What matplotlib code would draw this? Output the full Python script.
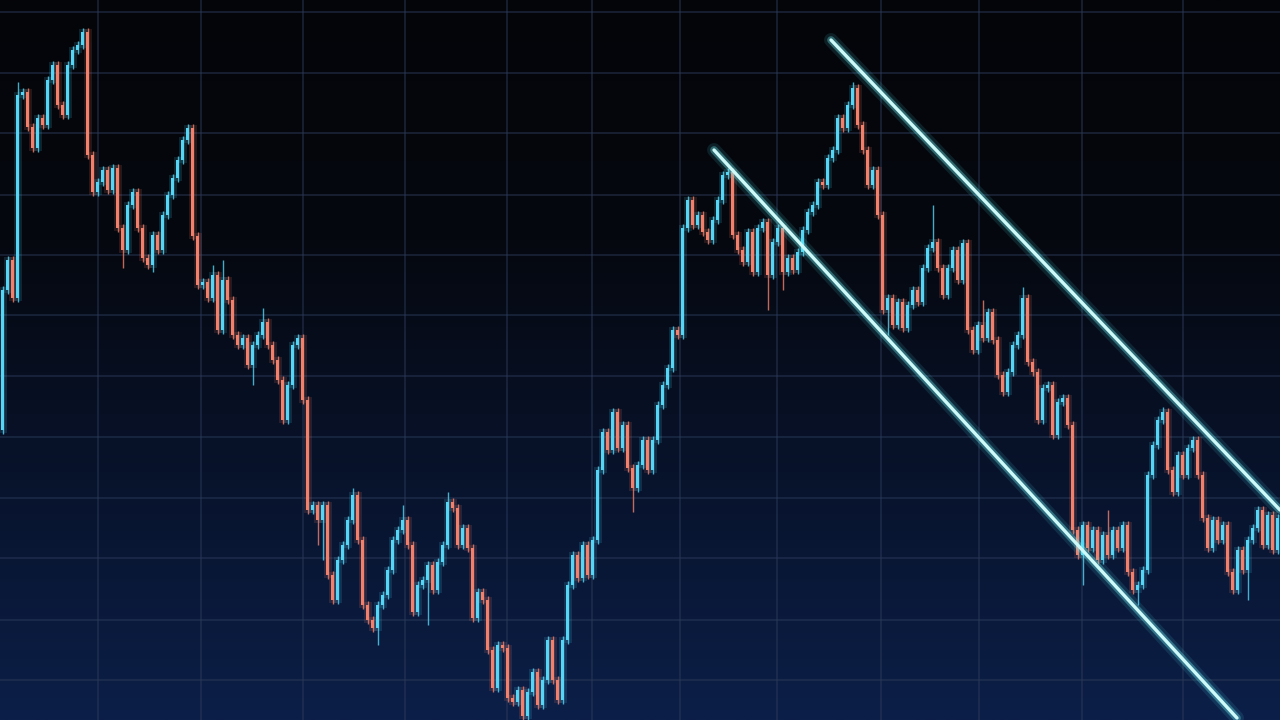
import numpy as np
import matplotlib.pyplot as plt
from matplotlib.colors import LinearSegmentedColormap

# closing price of every candle, left to right; each candle opens at the previous close
first_open=290
closes=[430, 460, 422, 625, 628, 593, 572, 602, 595, 640, 655, 615, 605, 655, 670, 675,
        688, 565, 528, 538, 550, 530, 552, 492, 470, 515, 528, 492, 462, 455, 485, 470,
        505, 525, 542, 560, 580, 592, 484, 435, 438, 422, 445, 390, 440, 420, 385, 375,
        382, 355, 375, 385, 398, 375, 360, 340, 300, 335, 375, 382, 320, 210, 215, 200,
        215, 145, 120, 160, 175, 200, 225, 180, 115, 100, 92, 115, 125, 150, 180, 190,
        200, 175, 108, 135, 140, 155, 130, 158, 175, 218, 212, 175, 192, 172, 102, 128,
        120, 70, 32, 75, 72, 22, 18, 30, 4, 28, 48, 15, 40, 80, 40, 20,
        80, 135, 165, 142, 175, 145, 180, 250, 288, 270, 308, 272, 295, 252, 232, 255,
        280, 250, 280, 315, 335, 352, 390, 385, 492, 520, 495, 505, 488, 480, 500, 520,
        545, 548, 485, 470, 458, 488, 448, 492, 498, 445, 478, 492, 448, 462, 450, 468,
        490, 508, 515, 538, 535, 562, 570, 602, 592, 615, 632, 595, 570, 535, 550, 505,
        410, 422, 395, 418, 392, 415, 430, 418, 452, 472, 478, 452, 425, 452, 470, 440,
        477, 390, 370, 395, 382, 408, 380, 345, 328, 348, 375, 385, 422, 358, 348, 300,
        332, 335, 285, 318, 322, 295, 190, 165, 195, 172, 190, 160, 185, 165, 190, 172,
        195, 148, 130, 135, 150, 245, 275, 300, 308, 250, 228, 265, 245, 272, 280, 245,
        202, 172, 200, 180, 195, 148, 130, 170, 150, 180, 192, 210, 175, 205, 170, 202]

# candles whose wick reaches further than usual (index -> price)
long_highs={3: 638, 16: 692, 37: 596, 42: 455, 44: 460, 52: 412, 70: 232, 80: 215,
            89: 228, 145: 552, 170: 638, 186: 515, 196: 420, 204: 433, 221: 210, 232: 313}
long_lows={24: 452, 30: 448, 50: 335, 63: 175, 64: 160, 75: 75, 85: 95, 126: 208,
           153: 410, 156: 430, 177: 385, 216: 135, 227: 115, 249: 120}

# descending channel drawn on the chart: (candle index, price) end points
upper_channel=[(165.7, 680), (255.5, 210)]
lower_channel=[(142.3, 570), (246.9, 2)]

grid_x=[19.1, 39.7, 60.1, 80.5, 100.9, 117.9, 135.5, 154.9, 175.7, 195.3, 215.9, 236.1]
grid_y=[40, 100, 162, 222, 283, 344, 405, 465, 525, 587, 647, 708]

closes=np.array(closes, dtype=float)
opens=np.r_[first_open, closes[:-1]]
idx=np.arange(len(closes))
wick_pad=4
highs=np.maximum(opens, closes)+wick_pad
lows=np.minimum(opens, closes)-wick_pad
for k, v in long_highs.items(): highs[k]=v
for k, v in long_lows.items(): lows[k]=v

up=closes>=opens
blue='#55d6f6'
red='#f2806b'
colors=np.where(up, blue, red)

fig=plt.figure(figsize=(12.8, 7.2), dpi=100)
ax=fig.add_axes([0, 0, 1, 1])
ax.set_xlim(-0.5, len(closes)-0.5)
ax.set_ylim(0, 720)

# background: near black at the top, deep navy at the bottom
bg=LinearSegmentedColormap.from_list('bg', ['#0c1f48', '#08132c', '#05080f', '#040509'])
grad=np.linspace(0, 1, 256).reshape(-1, 1)
ax.imshow(grad, extent=[-0.5, len(closes)-0.5, 0, 720], aspect='auto', cmap=bg,
          origin='lower', zorder=0)

ax.set_xticks(grid_x)
ax.set_yticks(grid_y)
ax.grid(True, color='#2c3b5a', lw=1.2, alpha=0.55, zorder=1)
ax.tick_params(length=0, labelbottom=False, labelleft=False)
for s in ax.spines.values():
    s.set_visible(False)

# candles with a soft glow
body_lo=np.minimum(opens, closes)
body_h=np.maximum(np.abs(closes-opens), 2)
ax.bar(idx, body_h+6, bottom=body_lo-3, width=1.6, color=colors, alpha=0.14, zorder=2, linewidth=0)
ax.vlines(idx, lows, highs, colors=colors, lw=1.0, alpha=0.8, zorder=3)
ax.bar(idx, body_h, bottom=body_lo, width=0.66, color=colors, zorder=4, linewidth=0)

# channel lines
for line in (upper_channel, lower_channel):
    xs, ys=zip(*line)
    ax.plot(xs, ys, color='#4fe0ec', lw=10, alpha=0.12, solid_capstyle='round', zorder=5)
    ax.plot(xs, ys, color='#6eeef4', lw=5.5, alpha=0.35, solid_capstyle='round', zorder=5)
    ax.plot(xs, ys, color='#cdf9f8', lw=2.4, solid_capstyle='round', zorder=6)

fig.savefig('out.png', dpi=100)
